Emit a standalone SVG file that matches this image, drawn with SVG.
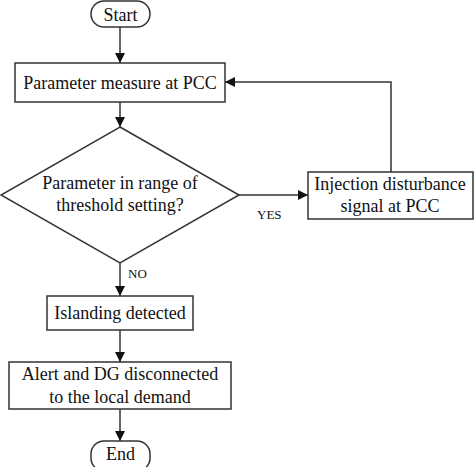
<svg xmlns="http://www.w3.org/2000/svg" width="474" height="467" viewBox="0 0 474 467">
<style>
.s{fill:#fff;stroke:#333;stroke-width:1.5}
.t{font-family:"Liberation Serif","Times New Roman",serif;font-size:18px;fill:#111;text-anchor:middle}
.l{font-family:"Liberation Serif","Times New Roman",serif;font-size:13px;fill:#111}
.c{fill:none;stroke:#333;stroke-width:1.5}
</style>
<defs>
<marker id="a" markerWidth="10" markerHeight="10" viewBox="0 0 10 10" refX="10" refY="5" orient="auto" markerUnits="userSpaceOnUse">
<path d="M0,0 L10,5 L0,10 z" fill="#111"/>
</marker>
</defs>
<rect width="474" height="467" fill="#fff"/>
<g id="connectors">
<line class="c" x1="120" y1="27" x2="120" y2="63" marker-end="url(#a)"/>
<line class="c" x1="120" y1="102" x2="120" y2="127" marker-end="url(#a)"/>
<line class="c" x1="239" y1="195" x2="308" y2="195" marker-end="url(#a)"/>
<polyline class="c" points="391,172 391,82 225,82" marker-end="url(#a)"/>
<line class="c" x1="120" y1="263" x2="120" y2="296" marker-end="url(#a)"/>
<line class="c" x1="120" y1="330" x2="120" y2="362" marker-end="url(#a)"/>
<line class="c" x1="120" y1="409" x2="120" y2="441" marker-end="url(#a)"/>
<text class="l" x="257" y="219">YES</text>
<text class="l" x="128" y="278">NO</text>
</g>
<g id="start">
<rect class="s" x="91" y="1" width="59" height="26" rx="13"/>
<text class="t" x="120.5" y="21">Start</text>
</g>
<g id="measure">
<rect class="s" x="15" y="63" width="210" height="39"/>
<text class="t" x="120" y="89">Parameter measure at PCC</text>
</g>
<g id="decision">
<polygon class="s" points="120,127 239,195 120,263 1,195"/>
<text class="t" x="120" y="189">Parameter in range  of</text>
<text class="t" x="120" y="211">threshold setting?</text>
</g>
<g id="injection">
<rect class="s" x="308" y="172" width="165" height="47"/>
<text class="t" x="390" y="190">Injection disturbance</text>
<text class="t" x="390" y="212">signal at PCC</text>
</g>
<g id="islanding">
<rect class="s" x="47" y="296" width="146" height="34"/>
<text class="t" x="120" y="319">Islanding detected</text>
</g>
<g id="alert">
<rect class="s" x="9" y="362" width="222" height="47"/>
<text class="t" x="120" y="380">Alert and DG disconnected</text>
<text class="t" x="120" y="403">to the local demand</text>
</g>
<g id="end">
<rect class="s" x="91" y="441" width="59" height="30" rx="13"/>
<text class="t" x="120.5" y="460">End</text>
</g>
</svg>
